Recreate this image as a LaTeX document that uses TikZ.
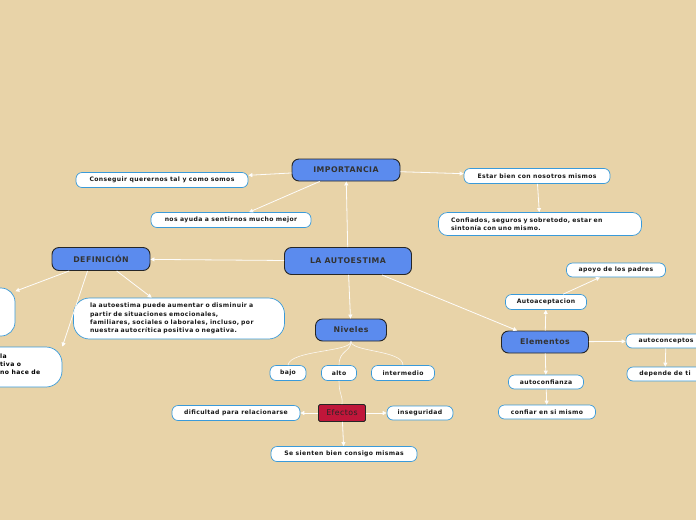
\documentclass[tikz,border=0pt]{standalone}
\usepackage{fontspec}
\setmainfont{DejaVu Sans}[LetterSpace=6]
\usetikzlibrary{arrows.meta}
\definecolor{bg}{HTML}{E8D3A8}
\definecolor{mainblue}{HTML}{5B8BEE}
\definecolor{lblue}{HTML}{3A9AD9}
\definecolor{crim}{HTML}{C0163A}
\tikzset{
 mainbox/.style={draw=black!85,line width=0.9pt,fill=mainblue,rounded corners=7pt,font=\bfseries\fontsize{7.8}{8.5}\selectfont,text=black!80,inner sep=0pt},
 leafbox/.style={draw=lblue,line width=0.7pt,fill=white,rounded corners=6pt,font=\bfseries\fontsize{6.1}{7.6}\selectfont,text=black!90,inner sep=0pt,minimum height=15pt},
 conn/.style={draw=white!95!bg,line width=0.8pt,-{Triangle[length=4pt,width=4pt]}},
 thin/.style={draw=white!85!bg,line width=0.6pt}
}
\begin{document}
\begin{tikzpicture}[x=1pt,y=-1pt]
\useasboundingbox (0,0) rectangle (696,520);
\fill[bg] (0,0) rectangle (696,520);
\clip (0,0) rectangle (696,520);
% main nodes
\node[mainbox,minimum width=127pt,minimum height=27pt] (c) at (348,261) {LA AUTOESTIMA};
\node[mainbox,minimum width=108pt,minimum height=22pt] (imp) at (346,170) {IMPORTANCIA};
\node[mainbox,minimum width=98pt,minimum height=23pt] (def) at (101,259) {DEFINICIÓN};
\node[mainbox,minimum width=71pt,minimum height=22pt] (niv) at (351,330) {Niveles};
\node[mainbox,minimum width=87pt,minimum height=22pt] (ele) at (545,342) {Elementos};
\node[mainbox,fill=crim,rounded corners=1.5pt,minimum width=47pt,minimum height=17pt,font=\fontsize{7.8}{8.5}\selectfont,text=black!85] (efe) at (342,413) {Efectos};
% leaves
\node[leafbox,minimum width=172pt] (cons) at (162,180) {Conseguir querernos tal y como somos};
\node[leafbox,minimum width=160pt] (nos) at (231,220) {nos ayuda a sentirnos mucho mejor};
\node[leafbox,minimum width=146pt] (est) at (537,176) {Estar bien con nosotros mismos};
\node[leafbox,minimum width=203pt,minimum height=23pt,rounded corners=9pt,align=left,text width=178pt] (conf) at (540,224) {Confiados, seguros y sobretodo, estar en\\sintonía con uno mismo.};
\node[leafbox,minimum width=99pt,minimum height=14pt] (apo) at (616,270) {apoyo de los padres};
\node[leafbox,minimum width=81pt] (aut) at (546,302) {Autoaceptacion};
\node[leafbox,minimum width=80pt,minimum height=14pt] (acon) at (666,341) {autoconceptos};
\node[leafbox,minimum width=76pt,minimum height=14pt] (dep) at (665,374) {depende de ti};
\node[leafbox,minimum width=75pt,minimum height=14pt] (acf) at (546,382) {autoconfianza};
\node[leafbox,minimum width=97pt,minimum height=14pt] (cfs) at (547,412) {confiar en si mismo};
\node[leafbox,minimum width=36pt] (bajo) at (288,373) {bajo};
\node[leafbox,minimum width=35pt] (alto) at (339,373) {alto};
\node[leafbox,minimum width=63pt] (int) at (403,373) {intermedio};
\node[leafbox,minimum width=128pt] (dif) at (236,413) {dificultad para relacionarse};
\node[leafbox,minimum width=66pt,minimum height=14pt] (ins) at (420,413) {inseguridad};
\node[leafbox,minimum width=146pt] (sie) at (344,454) {Se sienten bien consigo mismas};
\node[leafbox,minimum width=211pt,minimum height=41pt,rounded corners=16pt,align=left,text width=178pt,font=\bfseries\fontsize{6.1}{8.2}\selectfont] (par) at (179,318.5) {la autoestima puede aumentar o disminuir a\\partir de situaciones emocionales,\\familiares, sociales o laborales, incluso, por\\nuestra autocrítica positiva o negativa.};
\node[leafbox,minimum width=110pt,minimum height=48pt,rounded corners=14pt] (l1) at (-40,312) {};
\node[leafbox,minimum width=150pt,minimum height=40pt,rounded corners=16pt] (l2) at (-13,367) {};
\node[font=\bfseries\fontsize{6.1}{8.2}\selectfont,align=left,anchor=west,inner sep=0pt] (l2t) at (0,364) {la\\tiva o\\no hace de};
% connectors
\draw[conn] (c) -- (imp);
\draw[conn] (c) -- (def);
\draw[conn] (c) -- (niv);
\draw[conn] (c) -- (ele);
\draw[conn] (imp) -- (cons);
\draw[conn] (imp) -- (nos);
\draw[conn] (imp) -- (est);
\draw[conn] (est) -- (conf);
\draw[conn] (def) -- (l1);
\draw[conn] (def.south west)++(36,0) -- (l2.north east);
\draw[conn] (def) -- (par);
\draw[conn] (ele) -- (aut);
\draw[conn] (aut) -- (apo);
\draw[conn] (ele) -- (acon);
\draw[conn] (acon) -- (dep);
\draw[conn] (ele) -- (acf);
\draw[conn] (acf) -- (cfs);
\draw[thin] (niv.south) .. controls (351,352) and (290,350) .. (bajo.north);
\draw[thin] (niv.south) .. controls (351,352) and (339,350) .. (alto.north);
\draw[thin] (niv.south) .. controls (351,352) and (403,350) .. (int.north);
\draw[thin] (alto.south) .. controls (339,395) and (343,395) .. (efe.north);
\draw[conn] (efe) -- (dif);
\draw[conn] (efe) -- (ins);
\draw[conn] (efe) -- (sie);
\end{tikzpicture}
\end{document}
